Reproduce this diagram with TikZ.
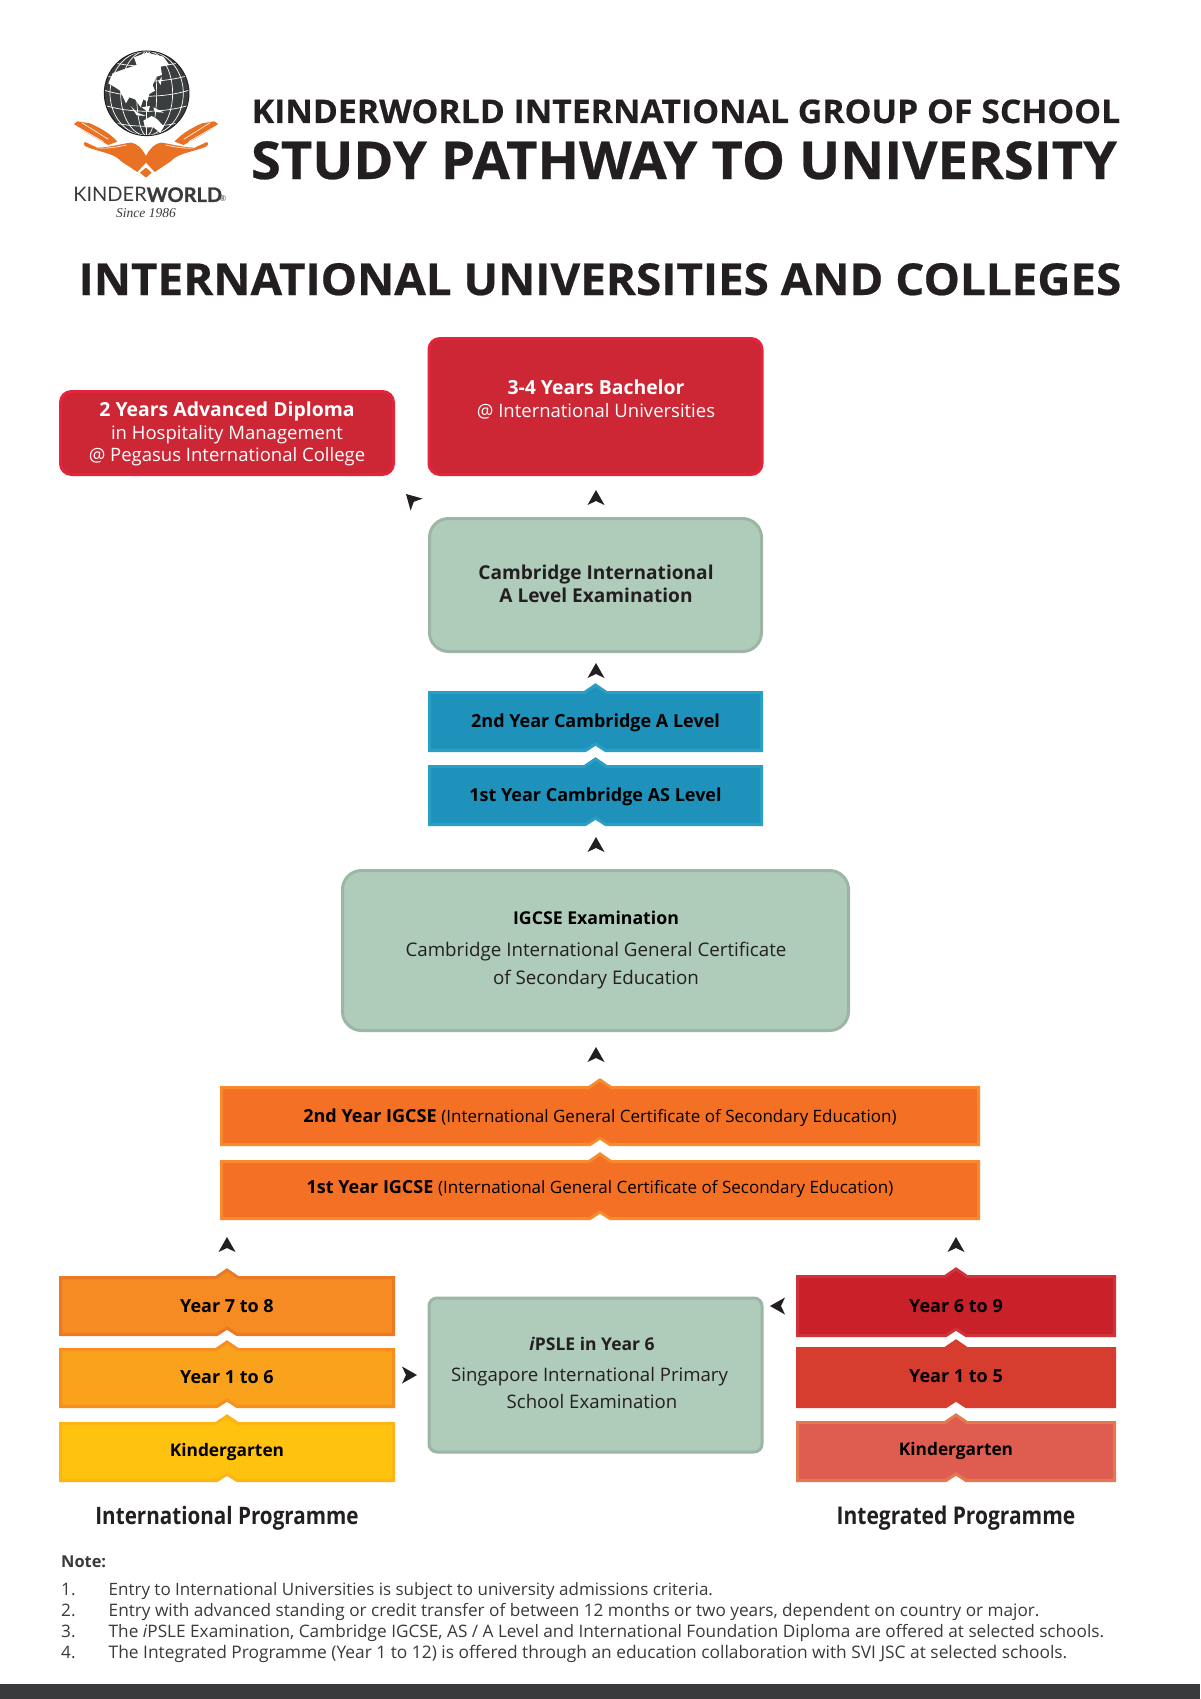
\documentclass[tikz,border=0pt]{standalone}
\usepackage{fontspec}
\setmainfont[FakeStretch=1.0]{Open Sans}
\newfontfamily\ttl[FakeStretch=1.04,BoldFeatures={FakeBold=0.5}]{Open Sans}
\newfontfamily\cond[FakeStretch=0.86]{Open Sans}
\newfontfamily\kw[BoldFeatures={FakeBold=1}]{Lato}
\newfontfamily\sr{Liberation Serif}
\definecolor{ink}{HTML}{231F20}
\definecolor{notegray}{HTML}{3A3A3C}
\definecolor{redF}{HTML}{CD2735}\definecolor{redB}{HTML}{E3243B}
\definecolor{greenF}{HTML}{AFCBB9}\definecolor{greenB}{HTML}{9DB5A4}
\definecolor{blueF}{HTML}{1E92BB}\definecolor{blueB}{HTML}{2A9FC6}
\definecolor{igF}{HTML}{F37024}\definecolor{igB}{HTML}{F68A2C}
\definecolor{y7F}{HTML}{F68B23}\definecolor{y7B}{HTML}{EA7825}
\definecolor{y1F}{HTML}{FAA21B}\definecolor{y1B}{HTML}{F68F1F}
\definecolor{kF}{HTML}{FFC20E}\definecolor{kB}{HTML}{FDB515}
\definecolor{r6F}{HTML}{C9202A}\definecolor{r6B}{HTML}{D0323A}
\definecolor{r1F}{HTML}{D63D2E}\definecolor{r1B}{HTML}{D63D2E}
\definecolor{rkF}{HTML}{DE5C50}\definecolor{rkB}{HTML}{E4794F}
\definecolor{handO}{HTML}{E87124}
\definecolor{globeD}{HTML}{3B3E3E}
\tikzset{
 x=1pt,y=-1pt,
 redbox/.style={draw=redB,fill=redF,line width=3pt,rounded corners=11pt},
 greenbox/.style={draw=greenB,fill=greenF,line width=3pt,rounded corners=19pt},
 greensmall/.style={draw=greenB,fill=greenF,line width=3pt,rounded corners=8pt},
 lbl/.style={anchor=base,inner sep=0pt,outer sep=0pt},
 arrowhead/.style={fill=ink,draw=none},
 bandtext/.style={lbl,text=black,font=\bfseries\fontsize{18}{20}\selectfont},
}
\newcommand{\ribbon}[9][5.5]{% dy name x1 y1 x2 y2 fill border text
 \pgfmathsetmacro{\cx}{(#3+#5)/2}
 \draw[line width=3pt,draw=#8,fill=#7,miter limit=4]
  ({#3+1.5},{#4+1.5}) -- ({\cx-11},{#4+1.5}) -- (\cx,{#4-6}) -- ({\cx+11},{#4+1.5}) -- ({#5-1.5},{#4+1.5})
  -- ({#5-1.5},{#6-1.5}) -- ({\cx+10},{#6-1.5}) -- (\cx,{#6-8}) -- ({\cx-10},{#6-1.5}) -- ({#3+1.5},{#6-1.5}) -- cycle;
 \node[bandtext] (#2) at (\cx,{(#4+#6)/2+#1}) {#9};
}
\newcommand{\navarrow}[3]{% tip x, tip y, rotation
 \fill[arrowhead,shift={(#1,#2)},rotate=#3] (0,0) -- (8.5,15) -- (0,11) -- (-8.5,15) -- cycle;
}
\newcommand{\igtail}{\mdseries\fontsize{17}{20}\selectfont (International General Certificate of Secondary Education)}
\newcommand{\kgsize}{\fontsize{17.3}{20}\selectfont}
\begin{document}
\begin{tikzpicture}
\useasboundingbox (0,0) rectangle (1200,1699);
\fill[white] (0,0) rectangle (1200,1699);
\fill[notegray] (0,1684) rectangle (1200,1699);

% ---- logo
\begin{scope}[shift={(40,20)},x=0.3333pt,y=-0.3333pt]
 \begin{scope}
  \clip (320,220) circle (127);
  \fill[globeD] (320,220) circle (127);
  % grid
  \foreach \r in {30,78,110}{\draw[white,line width=0.7pt] (320,220) ellipse ({\r} and 127);}
  \draw[white,line width=0.7pt] (320,93) -- (320,347);
  \foreach \o in {-100,-55,-10,35,80}{\draw[white,line width=0.7pt] (190,{220+\o}) .. controls (270,{245+\o}) and (370,{245+\o}) .. (450,{220+\o});}
  % continents
  \fill[white] (205,190) -- (218,160) -- (245,150) -- (290,135) -- (282,112) -- (320,98) -- (370,110) -- (388,135) -- (362,140) -- (366,165) -- (350,170) -- (338,195) -- (345,212) -- (328,222) -- (322,245) -- (310,238) -- (302,262) -- (285,238) -- (268,232) -- (258,250) -- (240,212) -- (222,200) -- cycle;
  \fill[white] (310,302) -- (335,288) -- (352,298) -- (372,320) -- (360,338) -- (340,322) -- (315,322) -- cycle;
  \fill[white] (272,258) -- (292,278) -- (318,288) -- (290,286) -- cycle;
  \fill[white] (305,262) -- (330,258) -- (325,276) -- cycle;
  \fill[white] (340,262) -- (372,278) -- (345,276) -- cycle;
  \fill[white] (355,185) -- (366,170) -- (362,195) -- cycle;
 \end{scope}
 \draw[ink,line width=1pt] (320,220) circle (127);
 % hands
 \foreach \s in {1,-1}{
 \begin{scope}[xshift={318*(1-\s)*0.3333pt},xscale=\s]
  \fill[handO] (318,408) .. controls (305,385) and (295,372) .. (272,368) .. controls (240,372) and (200,385) .. (170,382) -- (135,366) .. controls (128,372) and (132,378) .. (145,383) .. controls (190,398) and (225,402) .. (245,425) -- (292,456) -- (318,428) -- cycle;
  \fill[handO] (102,312) -- (112,304) -- (150,310) .. controls (185,325) and (215,345) .. (232,365) -- (205,375) .. controls (170,355) and (130,335) .. (102,312) -- cycle;
  \draw[white,line width=0.6pt] (125,308) -- (205,358) (108,318) -- (190,365) (170,383) .. controls (200,388) and (235,380) .. (260,375);
 \end{scope}}
 \fill[handO] (318,443) -- (335,458) -- (318,473) -- (300,458) -- cycle;
 \node[lbl,text=notegray,font=\kw\fontsize{20}{21}\selectfont,anchor=base west] (kw) at (100,546) {KINDER\textbf{WORLD}};
 \node[lbl,text=notegray,font=\kw\fontsize{8}{8}\selectfont] (reg) at (549,546) {®};
 \node[lbl,text=notegray,font=\sr\itshape\fontsize{13.5}{14}\selectfont] (since) at (318,594) {Since 1986};
\end{scope}

% ---- titles
\node[lbl,text=ink,font=\ttl\bfseries\fontsize{32.5}{34}\selectfont] (t1) at (686,123) {KINDERWORLD INTERNATIONAL GROUP OF SCHOOL};
\node[lbl,text=ink,font=\ttl\bfseries\fontsize{52.2}{54}\selectfont] (t2) at (684,179) {STUDY PATHWAY TO UNIVERSITY};
\node[lbl,text=ink,font=\ttl\bfseries\fontsize{44}{45}\selectfont] (t3) at (600,295) {INTERNATIONAL UNIVERSITIES AND COLLEGES};

% ---- top boxes
\node[redbox,minimum width=333pt,minimum height=136pt] (bach) at (595.5,406.5) {};
\node[lbl,text=white,font=\bfseries\fontsize{19.4}{20}\selectfont] (bach1) at (596,394) {3-4 Years Bachelor};
\node[lbl,text=white,font=\fontsize{18.5}{20}\selectfont] (bach2) at (596,417) {@ International Universities};
\node[redbox,minimum width=333pt,minimum height=83pt] (dip) at (227,433) {};
\node[lbl,text=white,font=\bfseries\fontsize{19.4}{20}\selectfont] (dip1) at (227,416) {2 Years Advanced Diploma};
\node[lbl,text=white,font=\fontsize{18.5}{20}\selectfont] (dip2) at (227,439) {in Hospitality Management};
\node[lbl,text=white,font=\fontsize{18.5}{20}\selectfont] (dip3) at (227,461) {@ Pegasus International College};
\node[greenbox,minimum width=332pt,minimum height=133pt] (alevel) at (595.5,585) {};
\node[lbl,text=ink,font=\bfseries\fontsize{19.1}{20}\selectfont] (al1) at (596,579) {Cambridge International};
\node[lbl,text=ink,font=\bfseries\fontsize{19.1}{20}\selectfont] (al2) at (596,602) {A Level Examination};
\ribbon{ca2}{428}{691}{763}{752}{blueF}{blueB}{2nd Year Cambridge A Level}
\ribbon{ca1}{428}{765}{763}{826}{blueF}{blueB}{1st Year Cambridge AS Level}
\node[greenbox,minimum width=506pt,minimum height=160pt] (igcse) at (595.5,950.5) {};
\node[lbl,text=black,font=\bfseries\fontsize{17.7}{20}\selectfont] (ig1) at (596,924) {IGCSE Examination};
\node[lbl,text=ink,font=\fontsize{18.75}{20}\selectfont] (ig2) at (596,956) {Cambridge International General Certificate};
\node[lbl,text=ink,font=\fontsize{18.75}{20}\selectfont] (ig3) at (596,984) {of Secondary Education};
\ribbon[6.5]{ig2nd}{220}{1086}{980}{1146}{igF}{igB}{2nd Year IGCSE {\igtail}}
\ribbon[3.5]{ig1st}{220}{1160}{980}{1220}{igF}{igB}{1st Year IGCSE {\igtail}}

% ---- bottom columns
\ribbon[6]{i78}{59}{1276}{395}{1336}{y7F}{y7B}{Year 7 to 8}
\ribbon[5]{i16}{59}{1348}{395}{1408}{y1F}{y1B}{Year 1 to 6}
\ribbon[4]{ik}{59}{1422}{395}{1482}{kF}{kB}{\kgsize Kindergarten}
\ribbon[6]{g69}{796}{1275}{1116}{1337}{r6F}{r6B}{Year 6 to 9}
\ribbon[5]{g15}{796}{1347}{1116}{1408}{r1F}{r1B}{Year 1 to 5}
\ribbon[4]{gk}{796}{1421}{1116}{1482}{rkF}{rkB}{\kgsize Kindergarten}
\node[greensmall,minimum width=333pt,minimum height=154pt] (ipsle) at (595.5,1375) {};
\node[lbl,text=ink,font=\bfseries\fontsize{17.5}{20}\selectfont] (ip1) at (592,1350) {\textit{i}PSLE in Year 6};
\node[lbl,text=ink,font=\fontsize{18.6}{20}\selectfont] (ip2) at (589.5,1381) {Singapore International Primary};
\node[lbl,text=ink,font=\fontsize{18.6}{20}\selectfont] (ip3) at (592,1408) {School Examination};
\node[lbl,text=ink,font=\cond\bfseries\fontsize{24}{26}\selectfont] (prog1) at (227,1524) {International Programme};
\node[lbl,text=ink,font=\cond\bfseries\fontsize{24.4}{26}\selectfont] (prog2) at (956,1524) {Integrated Programme};

% ---- arrowheads
\navarrow{596}{490}{0}
\navarrow{596}{663}{0}
\navarrow{596}{837}{0}
\navarrow{596}{1047}{0}
\navarrow{227}{1237}{0}
\navarrow{956}{1237}{0}
\navarrow{417}{1375}{-90}
\navarrow{770}{1306}{90}
\navarrow{406}{494}{45}

% ---- notes
\begin{scope}[every node/.style={anchor=base west,inner sep=0pt,text=notegray,font=\fontsize{17.2}{18}\selectfont}]
\node[font=\bfseries\fontsize{16.4}{18}\selectfont] (note) at (61,1567) {Note:};
\node (n1) at (61,1595) {1.};
\node[font=\fontsize{17}{18}\selectfont] (n1t) at (108.5,1595) {Entry to International Universities is subject to university admissions criteria.};
\node (n2) at (61,1616) {2.};
\node (n2t) at (108.5,1616) {Entry with advanced standing or credit transfer of between 12 months or two years, dependent on country or major.};
\node (n3) at (61,1637) {3.};
\node (n3t) at (108.5,1637) {The \textit{i}PSLE Examination, Cambridge IGCSE, AS / A Level and International Foundation Diploma are offered at selected schools.};
\node (n4) at (61,1658) {4.};
\node[font=\fontsize{17.35}{18}\selectfont] (n4t) at (108.5,1658) {The Integrated Programme (Year 1 to 12) is offered through an education collaboration with SVI JSC at selected schools.};
\end{scope}
\end{tikzpicture}
\end{document}
